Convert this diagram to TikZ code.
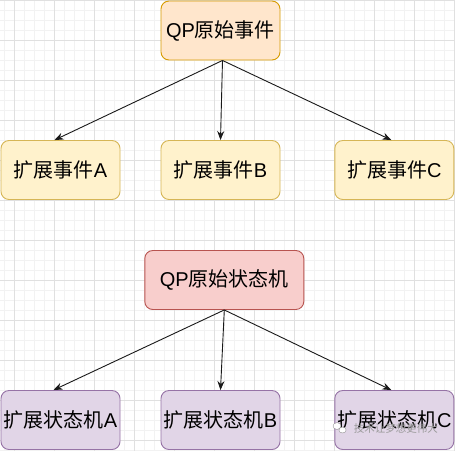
\documentclass[tikz,border=0pt]{standalone}
\usepackage{fontspec}
\setmainfont{Liberation Sans}
\newfontfamily\cjk{Noto Sans CJK SC}
\usetikzlibrary{arrows.meta,calc}
\definecolor{gridminor}{HTML}{F2F2F2}
\definecolor{gridmajor}{HTML}{E0E0E0}
\definecolor{orfill}{HTML}{FFE6CC}\definecolor{ordraw}{HTML}{D79B00}
\definecolor{yefill}{HTML}{FFF2CC}\definecolor{yedraw}{HTML}{D6B656}
\definecolor{rdfill}{HTML}{F8CECC}\definecolor{rddraw}{HTML}{B85450}
\definecolor{pufill}{HTML}{E1D5E7}\definecolor{pudraw}{HTML}{9673A6}
\tikzset{
  box/.style={draw, line width=0.9pt, rounded corners=8pt, minimum width=119pt, minimum height=59pt, inner sep=0pt, font=\fontsize{20}{24}\selectfont},
  orbox/.style={box, fill=orfill, draw=ordraw},
  yebox/.style={box, fill=yefill, draw=yedraw},
  rdbox/.style={box, fill=rdfill, draw=rddraw, minimum width=159pt},
  pubox/.style={box, fill=pufill, draw=pudraw},
  conn/.style={draw=black!90, line width=0.9pt, -{Stealth[length=9pt,width=7pt]}},
}
\begin{document}
\begin{tikzpicture}[x=1pt,y=-1pt]
\useasboundingbox (0,0) rectangle (455,451);
\fill[white] (0,0) rectangle (455,451);
% grid
\foreach \x in {4,14,...,454} \draw[gridminor, line width=0.8pt] (\x,0) -- (\x,451);
\foreach \y in {0,10,...,450} \draw[gridminor, line width=0.8pt] (0,\y) -- (455,\y);
\foreach \x in {14,54,...,454} \draw[gridmajor, line width=0.8pt] (\x,0) -- (\x,451);
\foreach \y in {0,40,...,440} \draw[gridmajor, line width=0.8pt] (0,\y) -- (455,\y);
% nodes
\node[orbox] (top) at (220.5,30.5) {QP{\cjk 原始事件}};
\node[yebox] (ea) at (60.5,170) {{\cjk 扩展事件}A};
\node[yebox] (eb) at (220.5,170) {{\cjk 扩展事件}B};
\node[yebox] (ec) at (394.3,170) {{\cjk 扩展事件}C};
\node[rdbox] (sm) at (224.3,280) {QP{\cjk 原始状态机}};
\node[pubox] (sa) at (60.5,420) {{\cjk 扩展状态机}A};
\node[pubox] (sb) at (220.5,420) {{\cjk 扩展状态机}B};
\node[pubox] (sc) at (394.3,420) {{\cjk 扩展状态机}C};
% connectors
\draw[conn] ([xshift=2pt]top.south) -- ([xshift=-6pt]ea.north);
\draw[conn] ([xshift=2pt]top.south) -- (eb.north);
\draw[conn] ([xshift=2pt]top.south) -- ([xshift=-3pt]ec.north);
\draw[conn] (sm.south) -- ([xshift=-7pt]sa.north);
\draw[conn] (sm.south) -- (sb.north);
\draw[conn] (sm.south) -- ([xshift=-3pt]sc.north);
% watermark
\fill[white, draw=black!45, line width=0.4pt] (337,426) ellipse (4pt and 3.4pt);
\fill[white, draw=black!45, line width=0.4pt] (342.5,430) ellipse (3.6pt and 3pt);
\node[font=\cjk\fontsize{10.5}{12}\selectfont, inner sep=0pt, text=black!40] (wm) at (395.8,428.3) {技术让梦想更伟大};
\end{tikzpicture}
\end{document}
